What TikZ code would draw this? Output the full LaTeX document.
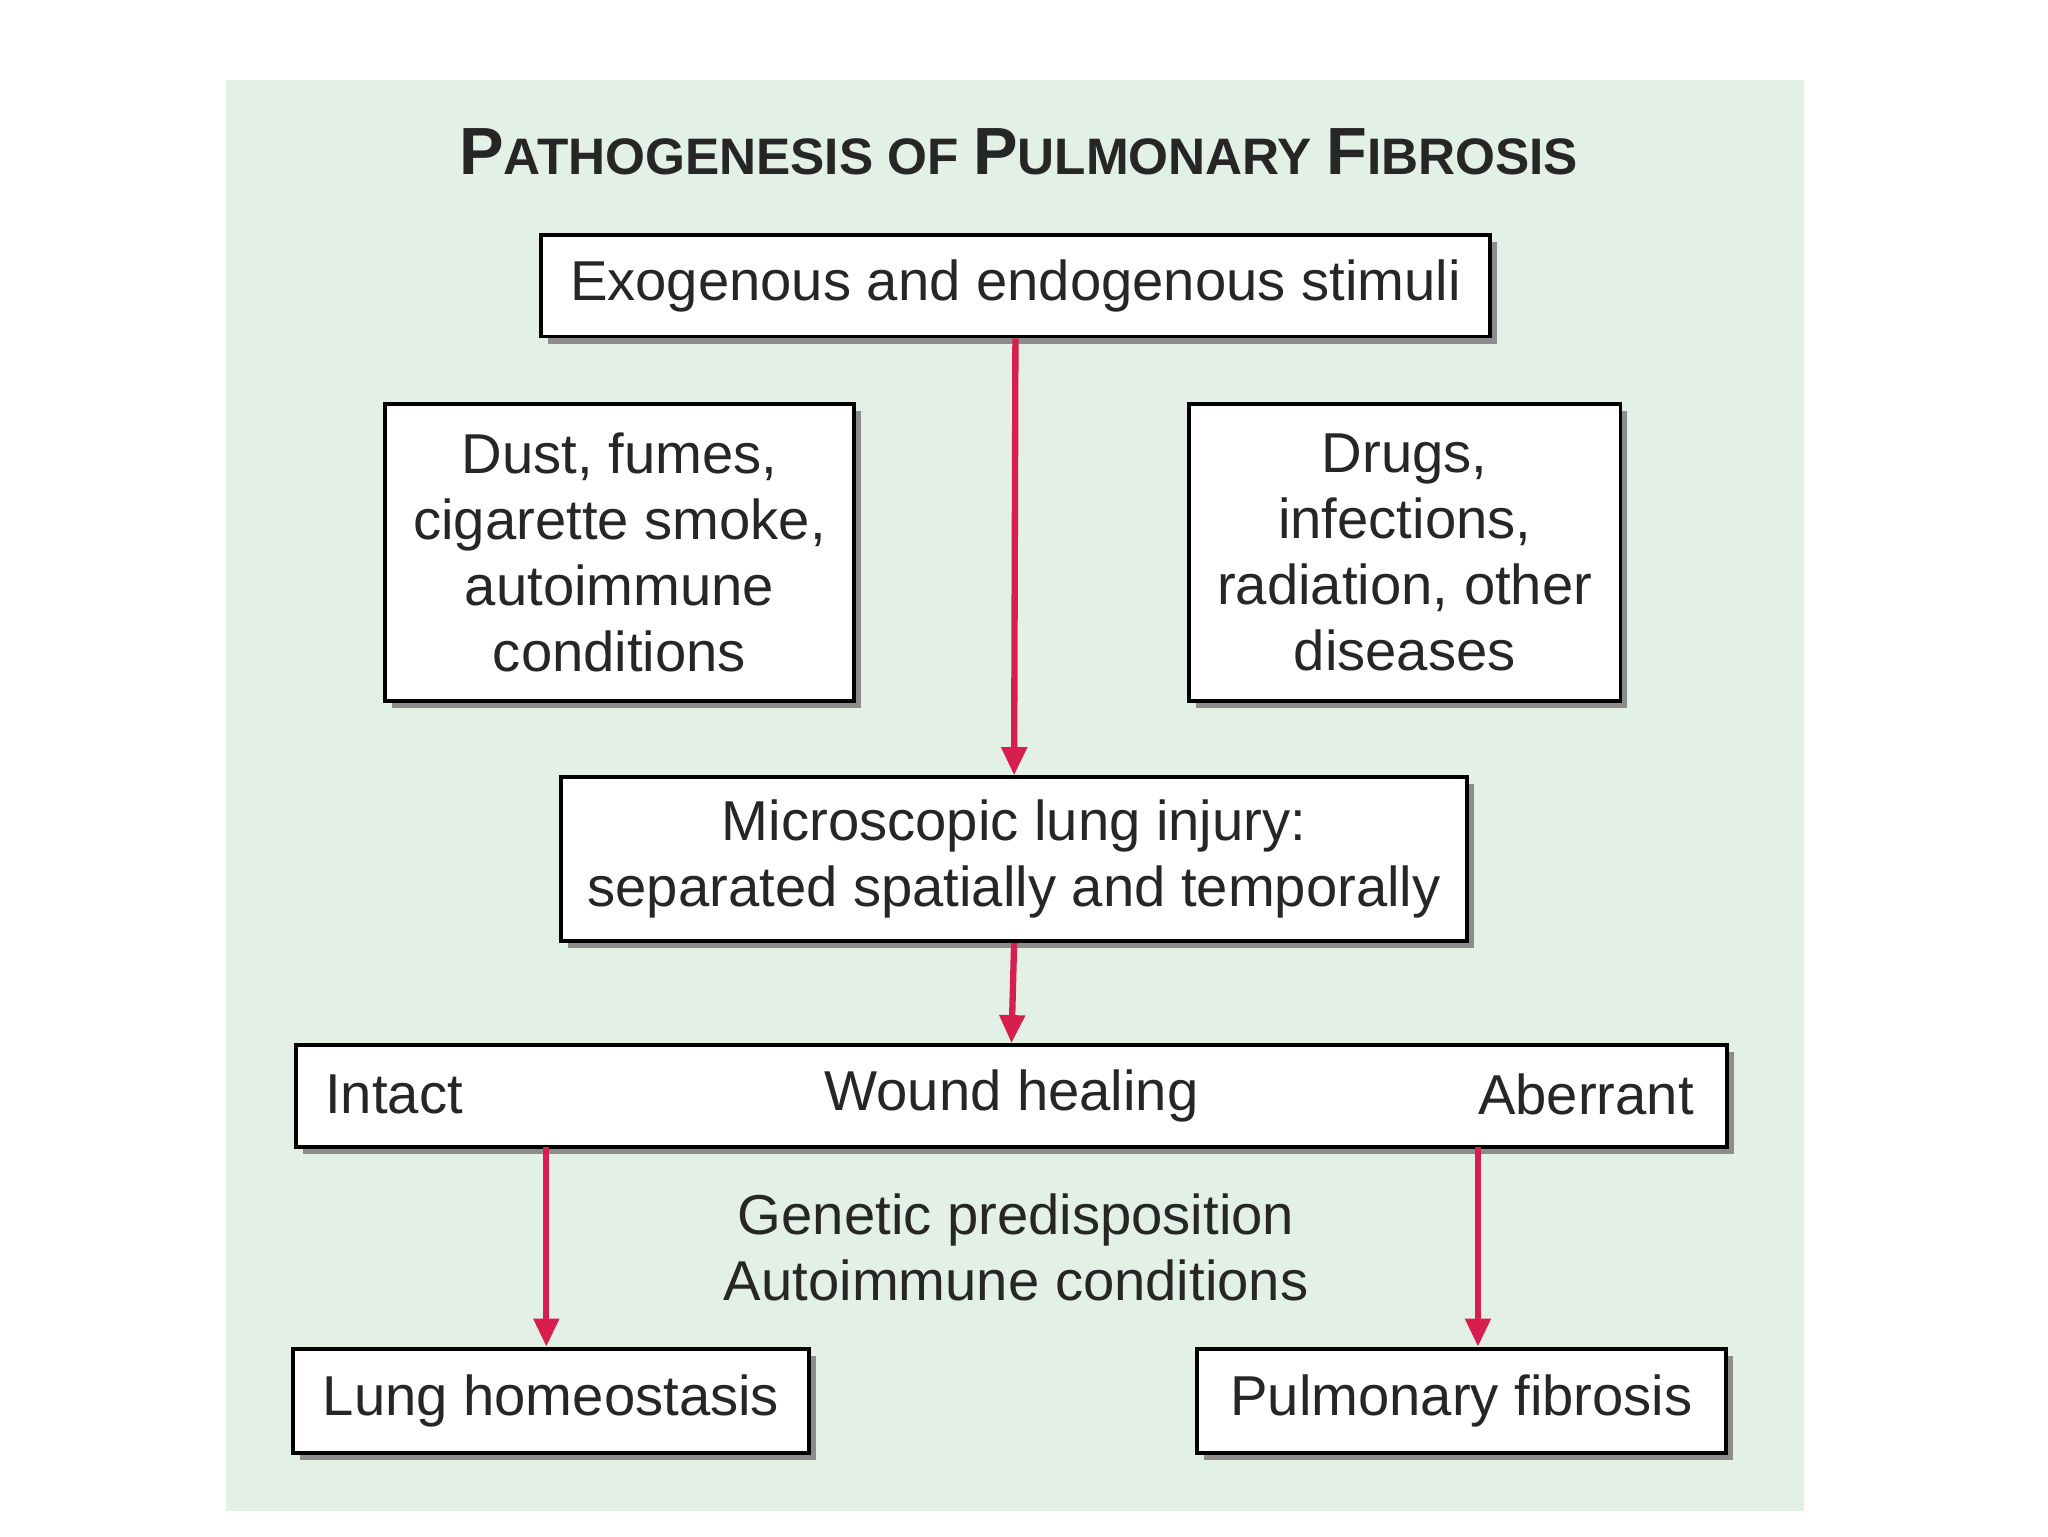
\documentclass[tikz,border=0pt]{standalone}
\usepackage{fontspec}
\setmainfont{Liberation Sans}
\usetikzlibrary{shadows,arrows.meta}
\definecolor{bg}{HTML}{E3F0E6}
\definecolor{arr}{HTML}{D81E4E}
\begin{document}
\begin{tikzpicture}[x=0.0132cm,y=-0.0132cm,
  box/.style={draw=black,line width=1.1pt,fill=white,align=center,inner sep=0pt,
    font=\fontsize{16}{18.8}\selectfont,text=black!85,
    drop shadow={shadow xshift=0.07cm,shadow yshift=-0.07cm,fill=black!45,opacity=1}},
  arrow/.style={draw=arr,line width=1.8pt,-{Triangle[length=8pt,width=7pt]}},
  lab/.style={font=\fontsize{16}{18.8}\selectfont,text=black!85,inner sep=0pt}]
\useasboundingbox (0,0) rectangle (1552,1164);
\fill[bg] (171,61) rectangle (1367,1145);
\node[font=\bfseries,text=black!85] (title) at (772,115)
 {\fontsize{19}{22}\selectfont P\fontsize{14.6}{18}\selectfont ATHOGENESIS OF \fontsize{19}{22}\selectfont P\fontsize{14.6}{18}\selectfont ULMONARY \fontsize{19}{22}\selectfont F\fontsize{14.6}{18}\selectfont IBROSIS};
\node[box,minimum width=719*0.0132cm,minimum height=77*0.0132cm] (stim) at (769.5,216.5) {Exogenous and endogenous stimuli};
\node[box,minimum width=355*0.0132cm,minimum height=225*0.0132cm] (dust) at (469.5,418.5) {Dust, fumes,\\cigarette smoke,\\autoimmune\\conditions};
\node[box,minimum width=327*0.0132cm,minimum height=225*0.0132cm] (drugs) at (1064.5,418.5) {Drugs,\\infections,\\radiation, other\\diseases};
\node[box,minimum width=687*0.0132cm,minimum height=124*0.0132cm] (micro) at (768.5,651) {Microscopic lung injury:\\separated spatially and temporally};
\node[box,minimum width=1085*0.0132cm,minimum height=77*0.0132cm] (wound) at (766.5,830.5) {Wound healing};
\node[lab,anchor=west] (intact) at (246,829) {Intact};
\node[lab,anchor=east] (aber) at (1284,829) {Aberrant};
\node[box,minimum width=391*0.0132cm,minimum height=79*0.0132cm] (homeo) at (417.5,1061.5) {Lung homeostasis};
\node[box,minimum width=401*0.0132cm,minimum height=79*0.0132cm] (fib) at (1107.5,1061.5) {Pulmonary fibrosis};
\node[lab,align=center] (gen) at (770,945) {Genetic predisposition\\Autoimmune conditions};
\coordinate (wl) at (414,869); \coordinate (wr) at (1120,869);
\draw[arrow] (stim.south) -- (micro.north);
\draw[arrow] (micro.south) -- (wound.north);
\draw[arrow] (wl) -- (wl|-homeo.north);
\draw[arrow] (wr) -- (wr|-fib.north);
\end{tikzpicture}
\end{document}
